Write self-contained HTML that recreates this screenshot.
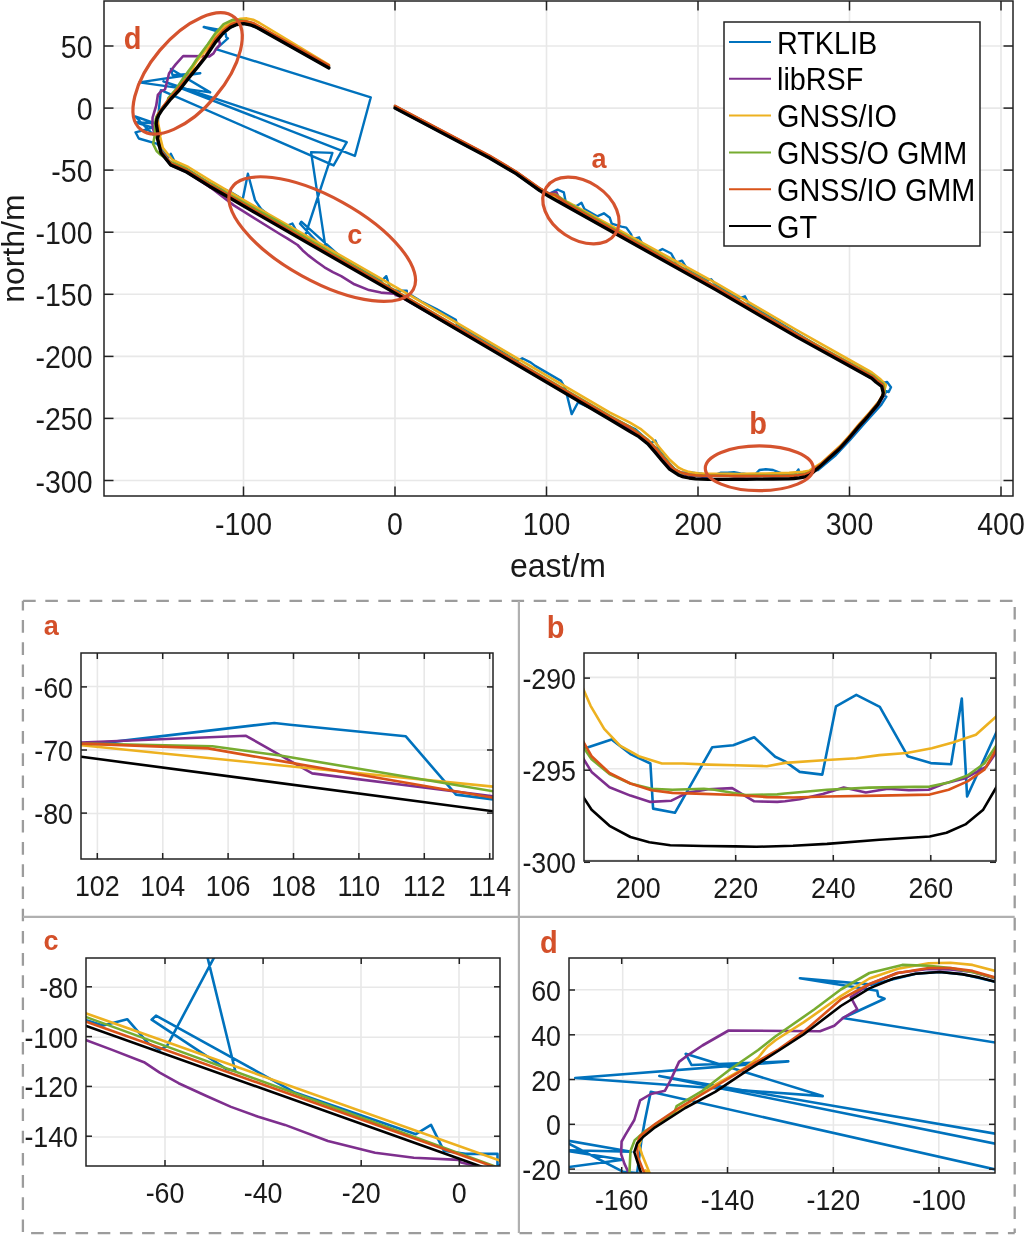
<!DOCTYPE html>
<html><head><meta charset="utf-8"><style>
html,body{margin:0;padding:0;background:#fff;}
svg{display:block;font-family:"Liberation Sans", sans-serif;filter:blur(0.55px);}
</style></head><body>
<svg width="1025" height="1236" viewBox="0 0 1025 1236">
<defs>
<clipPath id="cm"><rect x="104" y="1" width="909" height="495"/></clipPath>
<clipPath id="ca"><rect x="81" y="653" width="412" height="206"/></clipPath>
<clipPath id="cb"><rect x="584" y="653" width="412" height="208"/></clipPath>
<clipPath id="cc"><rect x="86" y="958" width="414" height="208"/></clipPath>
<clipPath id="cd"><rect x="569" y="958" width="426" height="215"/></clipPath>
</defs>
<line x1="243.5" y1="1" x2="243.5" y2="496" stroke="#e8e8e8" stroke-width="1.6"/>
<line x1="395" y1="1" x2="395" y2="496" stroke="#e8e8e8" stroke-width="1.6"/>
<line x1="546.5" y1="1" x2="546.5" y2="496" stroke="#e8e8e8" stroke-width="1.6"/>
<line x1="698" y1="1" x2="698" y2="496" stroke="#e8e8e8" stroke-width="1.6"/>
<line x1="849.5" y1="1" x2="849.5" y2="496" stroke="#e8e8e8" stroke-width="1.6"/>
<line x1="1001" y1="1" x2="1001" y2="496" stroke="#e8e8e8" stroke-width="1.6"/>
<line x1="104" y1="46" x2="1013" y2="46" stroke="#e8e8e8" stroke-width="1.6"/>
<line x1="104" y1="108.1" x2="1013" y2="108.1" stroke="#e8e8e8" stroke-width="1.6"/>
<line x1="104" y1="170.1" x2="1013" y2="170.1" stroke="#e8e8e8" stroke-width="1.6"/>
<line x1="104" y1="232.2" x2="1013" y2="232.2" stroke="#e8e8e8" stroke-width="1.6"/>
<line x1="104" y1="294.3" x2="1013" y2="294.3" stroke="#e8e8e8" stroke-width="1.6"/>
<line x1="104" y1="356.4" x2="1013" y2="356.4" stroke="#e8e8e8" stroke-width="1.6"/>
<line x1="104" y1="418.4" x2="1013" y2="418.4" stroke="#e8e8e8" stroke-width="1.6"/>
<line x1="104" y1="480.5" x2="1013" y2="480.5" stroke="#e8e8e8" stroke-width="1.6"/>
<line x1="97.4" y1="653" x2="97.4" y2="859" stroke="#e8e8e8" stroke-width="1.6"/>
<line x1="162.8" y1="653" x2="162.8" y2="859" stroke="#e8e8e8" stroke-width="1.6"/>
<line x1="228.1" y1="653" x2="228.1" y2="859" stroke="#e8e8e8" stroke-width="1.6"/>
<line x1="293.5" y1="653" x2="293.5" y2="859" stroke="#e8e8e8" stroke-width="1.6"/>
<line x1="358.9" y1="653" x2="358.9" y2="859" stroke="#e8e8e8" stroke-width="1.6"/>
<line x1="424.2" y1="653" x2="424.2" y2="859" stroke="#e8e8e8" stroke-width="1.6"/>
<line x1="489.6" y1="653" x2="489.6" y2="859" stroke="#e8e8e8" stroke-width="1.6"/>
<line x1="81" y1="686.5" x2="493" y2="686.5" stroke="#e8e8e8" stroke-width="1.6"/>
<line x1="81" y1="750" x2="493" y2="750" stroke="#e8e8e8" stroke-width="1.6"/>
<line x1="81" y1="813.5" x2="493" y2="813.5" stroke="#e8e8e8" stroke-width="1.6"/>
<line x1="638" y1="653" x2="638" y2="861" stroke="#e8e8e8" stroke-width="1.6"/>
<line x1="735.3" y1="653" x2="735.3" y2="861" stroke="#e8e8e8" stroke-width="1.6"/>
<line x1="832.7" y1="653" x2="832.7" y2="861" stroke="#e8e8e8" stroke-width="1.6"/>
<line x1="930" y1="653" x2="930" y2="861" stroke="#e8e8e8" stroke-width="1.6"/>
<line x1="584" y1="677.4" x2="996" y2="677.4" stroke="#e8e8e8" stroke-width="1.6"/>
<line x1="584" y1="768.7" x2="996" y2="768.7" stroke="#e8e8e8" stroke-width="1.6"/>
<line x1="584" y1="860" x2="996" y2="860" stroke="#e8e8e8" stroke-width="1.6"/>
<line x1="165" y1="958" x2="165" y2="1166" stroke="#e8e8e8" stroke-width="1.6"/>
<line x1="263" y1="958" x2="263" y2="1166" stroke="#e8e8e8" stroke-width="1.6"/>
<line x1="361" y1="958" x2="361" y2="1166" stroke="#e8e8e8" stroke-width="1.6"/>
<line x1="459" y1="958" x2="459" y2="1166" stroke="#e8e8e8" stroke-width="1.6"/>
<line x1="86" y1="987.3" x2="500" y2="987.3" stroke="#e8e8e8" stroke-width="1.6"/>
<line x1="86" y1="1037.2" x2="500" y2="1037.2" stroke="#e8e8e8" stroke-width="1.6"/>
<line x1="86" y1="1087.1" x2="500" y2="1087.1" stroke="#e8e8e8" stroke-width="1.6"/>
<line x1="86" y1="1137" x2="500" y2="1137" stroke="#e8e8e8" stroke-width="1.6"/>
<line x1="622.7" y1="958" x2="622.7" y2="1173" stroke="#e8e8e8" stroke-width="1.6"/>
<line x1="728.1" y1="958" x2="728.1" y2="1173" stroke="#e8e8e8" stroke-width="1.6"/>
<line x1="833.4" y1="958" x2="833.4" y2="1173" stroke="#e8e8e8" stroke-width="1.6"/>
<line x1="938.8" y1="958" x2="938.8" y2="1173" stroke="#e8e8e8" stroke-width="1.6"/>
<line x1="569" y1="989.8" x2="995" y2="989.8" stroke="#e8e8e8" stroke-width="1.6"/>
<line x1="569" y1="1034.8" x2="995" y2="1034.8" stroke="#e8e8e8" stroke-width="1.6"/>
<line x1="569" y1="1079.9" x2="995" y2="1079.9" stroke="#e8e8e8" stroke-width="1.6"/>
<line x1="569" y1="1125" x2="995" y2="1125" stroke="#e8e8e8" stroke-width="1.6"/>
<line x1="569" y1="1170" x2="995" y2="1170" stroke="#e8e8e8" stroke-width="1.6"/>
<polyline points="395,108.1 489.5,158 516,173.7 539.4,190.4 548.8,193.7 550.2,193.4 557.7,189.7 558.5,190 563.8,192.3 566.1,203.7 567.9,204.7 576.6,206.1 581.5,202.8 584.4,209 597.1,216.4 603.9,213.3 609.8,217.8 611.7,223.7 621.5,226.6 626.3,227.6 631.2,234.4 632.2,239.3 639,237.3 642.9,245.1 655.6,252.9 662.4,249 671.2,253.5 674.1,258.8 676.1,262.7 682,260.7 686.8,268.5 708.3,280.2 711.2,279.3 716.1,285.1 739,298.3 744.9,296.3 748.8,304.1 869,377 884.8,382.6 887.1,381.9 891,387.3 888.7,392 886.4,391.2 884,395.9 886.4,396.7 880.9,405.3 864,424 850,440 836,455 818,470 809.3,471.7 800.2,476.1 798.5,469.5 795.2,473.9 788.9,473.8 781.7,473.3 773.1,470 765.8,469.2 759.4,470 755.2,474.6 748.2,474.4 743.6,473.7 740.6,473.4 734,472.1 727.5,472.6 721,472.7 709.4,477.2 702.6,476.9 701.8,473.8 695.6,473.2 689.7,472.2 681.1,472.8 676.8,471.2 669.2,463.1 660,451.5 655.3,440.6 650.6,443 635,429 612,418 578.1,402.3 571.7,414.1 565.3,388.4 561,380.9 535.2,365.9 530.9,362.6 522.3,358.3 517,361.1 456.9,324 455.8,319.7 436.5,309 421.5,301.5 410,294.5 406.8,296.9 406.8,290.7 396.9,290.7 390.2,289.1 386.3,276.2 381.6,280.9 344.3,260.1 301.3,221.7 300,223.8 323.1,248.4 325.8,249.4 311.1,152.1 332.4,152.9 304.7,237 302.5,238.7 298.9,235.6 292.4,223.5 285,226.7 279.8,224.1 261.1,208.9 255,200.1 247.9,173.7 242.7,199.2 230.3,191.9 209.3,183.2 174.3,160.7 170.8,153.8 168.1,158.1 157.3,143.9 138.8,138.5 135.5,132.3 152.9,127.7 135.2,122.3 155.3,123.3 135.2,116.5 152.9,134.4 157,135.1 158.4,115.4 159.3,105.7 160.9,90.1 333.6,165.4 346.8,142.2 163.4,81.3 354.9,155.9 370.8,97.3 215.9,49.1 227.9,38.4 226.1,36.9 225.8,34 203.7,27 224.3,30.6 236.8,24.5 243.7,23.5 250,24.8 259.6,29 328.9,68" fill="none" stroke="#0072BD" stroke-width="2.4" stroke-linejoin="round" stroke-linecap="round" clip-path="url(#cm)"/>
<polyline points="210.2,92.4 139.3,82.4 200.3,73.2 172.6,75.2 170.9,69 210.2,92.4" fill="none" stroke="#0072BD" stroke-width="2.4" stroke-linejoin="round" stroke-linecap="round" clip-path="url(#cm)"/>
<polyline points="395,106.2 489.5,156.1 516,171.9 539.4,188.5 548.8,193.5 556.4,192.2 559.5,199.6 567.9,204.1 716,287.5 797.5,334.9 873.2,377.1 877.6,381.1 883.2,385.3 884.7,391.6 884.2,394.7 879.3,403.4 869.5,415.1 859.8,425.9 850,437.6 840.3,448.3 830.5,457.1 820.8,465.9 809.3,473.1 806.2,474 799.6,474.8 793.1,475.2 788.2,475.6 782.1,475.6 775.5,475.5 768.7,475.8 761.8,475.5 755.3,475.9 748.2,476.2 743.6,476.4 741.2,476.4 734,476.4 727.2,475.5 719.7,475.6 713.2,475.8 708.3,476.3 701.8,476.4 695.6,476 689.1,475.4 683.5,474.4 681.1,473.5 673.2,469.8 664.4,460.1 655.6,449.6 646.8,440.8 629.2,428.1 609.2,417.2 400.8,296.9 395.5,295 394.9,293.7 380.9,292.6 369,290.1 354.4,284.3 341.2,276.2 332.9,272.2 324.5,267.3 316.7,261.7 308.3,255.4 302.5,250.2 297.6,245 287.6,238.7 279.8,234 233.9,205.4 211,187.8 186.5,172 170.7,165 161,152.7 157.5,138.6 154.7,135.2 153.4,130 152.4,124.6 152.6,117.6 153.7,113.8 156.2,105.7 157.9,94.8 161,91.3 165,89.4 166.5,83.8 169,73.5 171.7,69.5 175.7,64.4 183.2,56 209.4,56.4 213.5,53.4 216,49.1 220.1,44.3 218.2,37.6 223.7,30.2 231.5,24.1 240.3,21.9 246.6,22.2 253.1,23.6 259.6,27.2 328.9,66.7" fill="none" stroke="#7E2F8E" stroke-width="2.6" stroke-linejoin="round" stroke-linecap="round" clip-path="url(#cm)"/>
<polyline points="395,106.8 489.5,156.7 516,172.5 539.4,189.1 548.8,194 567.9,202.2 716,283.1 797.5,330.5 871.8,372.5 879.8,378.7 885.9,384.9 884.7,389.1 884.2,392.2 879.3,400.9 869.5,412.6 859.8,423.4 850,435.1 840.3,445.8 830.5,454.6 820.8,463.4 809.3,470.7 802.9,471.9 795.7,472.4 789.2,472.8 781.4,473.1 772.9,473.3 765.8,473.5 756.6,473.6 743.6,473.8 737.9,474 728.2,473.9 719.7,473.9 711.9,473.8 705.4,473.8 698.2,473.3 692.3,472.6 687.4,471.5 683.2,469.9 681.1,468.9 678.3,467.5 669.5,459.5 660.7,449 651.9,438.4 640.4,428.8 630,422.6 610,412.7 407.9,294.2 279.8,220.6 232.1,193.4 211.1,181.2 188.3,167 172.5,160 162.8,147.7 159.3,133.6 160.6,135.3 158.5,125.2 157.5,119.8 158.4,115.1 162.4,108.5 169.3,99.3 179.3,86.3 187.9,76.8 191.8,70.9 193.6,66.5 194.5,64.7 196.7,61.3 204.7,51.5 215.4,37 223.6,27.2 231.7,21.8 240.5,18.7 246.8,18.4 253.1,19.7 259.6,23 328.9,64.9" fill="none" stroke="#EDB120" stroke-width="2.6" stroke-linejoin="round" stroke-linecap="round" clip-path="url(#cm)"/>
<polyline points="395,106.2 489.5,156.1 516,171.9 539.4,188.5 548.8,193.7 554.9,194.2 558,196.1 567.9,203.1 716,286.8 797.5,334.3 873.2,375.8 877.6,379.8 883.2,384 884.7,390.3 884.2,393.4 879.3,402.1 869.5,413.8 859.8,424.6 850,436.3 840.3,447 830.5,455.8 820.8,464.6 809.3,472.6 805.5,473.8 800.3,474.6 794.4,475.1 788.6,475.4 769.7,475.5 756.6,475.6 743.6,475.9 741.2,475.9 731.4,476 721.7,475.6 718.4,475.5 708.6,475.6 702.1,475.5 695.6,475.2 689.1,474.5 683.5,473.5 681.1,472.8 673.9,468.6 665.1,458.9 656.3,448.3 647.6,439.5 630,426.9 610,415.9 407.9,298 279.8,222.5 230.3,195.2 209.3,183.1 186.5,169 170.7,162 165.4,158 160.1,154.4 156.6,151 153.1,143.9 154.8,135.3 155.1,122.8 156.3,116.8 159.1,112.1 167.7,101.4 168.3,98 175.7,89.5 183.7,77.6 191.7,66.9 196.5,59.5 207.8,44.3 215.4,33.3 223.6,24.1 233,19.7 240.5,20.2 246.8,21.4 253.1,23.6 259.6,26.9 328.9,66.1" fill="none" stroke="#77AC30" stroke-width="2.6" stroke-linejoin="round" stroke-linecap="round" clip-path="url(#cm)"/>
<polyline points="395,105.8 489.5,155.7 516,171.5 539.4,188.1 548.8,193.7 554.7,194.7 558,197.1 567.9,204.4 716,287.5 797.5,334.9 872.3,376.3 876.7,380.3 882.3,384.5 883.8,390.8 883.3,393.9 878.4,402.6 868.6,414.3 858.9,425.1 849.1,436.8 839.4,447.5 829.6,456.3 819.9,465.1 809.3,472.8 805.5,474.3 800.3,475 794.4,475.6 788.6,475.9 772.9,476 756.6,476.1 746.1,476.1 737.9,476.1 728.2,476 718.4,475.9 708.6,475.8 702.1,475.6 695.6,475.2 689.1,474.5 683.5,473.3 681.1,472.4 673.9,469.2 665.1,459.5 656.3,449 647.6,440.1 630,427.5 610,416.6 407.9,298.4 279.8,224.8 230.3,196.5 209.3,184.3 186.5,170.1 170.7,163.1 161,150.8 157.5,136.7 159.1,135.3 157.3,126.4 156.9,119.2 157.9,114.5 162.2,107.9 168.9,99 179.4,87.1 188.6,76.4 197.2,66.9 205.3,55.8 215.4,38.8 223.6,30.2 231.7,24.1 240.5,21.4 246.8,21.4 253.1,23 259.6,26.6 328.9,65.5" fill="none" stroke="#D95319" stroke-width="2.6" stroke-linejoin="round" stroke-linecap="round" clip-path="url(#cm)"/>
<polyline points="395,108.1 489.5,158 516,173.7 539.4,190.4 548.8,196.3 567.9,207 716,289.9 797.5,337.4 871.7,378.3 876.1,382.3 881.7,386.5 883.2,392.8 882.7,395.9 877.8,404.6 868,416.3 858.3,427.1 848.5,438.8 838.8,449.5 829,458.3 819.3,467.1 809.3,475.4 805.2,476.9 799.6,477.9 793.8,478.5 788.6,478.8 772.9,479 756.6,479.2 746.1,479.4 734.7,479.4 728.2,479.4 718.4,479.4 708,479.3 701.4,479.1 695.6,478.8 689.1,478 683.5,476.9 681.1,476.1 678.3,474.9 669.5,469.2 662.5,461.2 655.4,452.6 647.6,443.7 638.8,436.7 630,431.5 610,419.5 401.5,296.9 279.8,226.9 230.3,198.3 209.3,186.2 186.5,172 170.7,165 161,152.7 157.5,138.6 158.1,135.2 156.2,123.5 157,118.7 158.7,115.2 162.2,109.7 170.8,99 179.4,90.1 188.6,78.2 197.8,66.9 204.7,58.3 215.4,42.4 223.6,32.7 230.5,27.2 236.8,24.5 243.7,23.6 250,24.8 255,26.6 259.6,29 328.9,68" fill="none" stroke="#000000" stroke-width="3.3" stroke-linejoin="round" stroke-linecap="round" clip-path="url(#cm)"/>
<polyline points="-3238.1,308.3 -1197.6,562 -625.4,642.1 -121.8,726.7 81.3,743.6 112.8,741.9 274.3,723 290,724.7 405.6,736.2 456,794.6 493.6,799.5 681.6,806.6 787.3,789.8 849.9,821.3 1124.1,858.9 1270.8,843.2 1398.2,866.1 1439.2,896 1650.7,910.8 1754.3,915.9 1860.1,950.4 1881.7,975.3 2028.4,965.2 2112.6,1004.8 2386.7,1044.5 2533.5,1024.6 2723.4,1047.5 2786,1074.5 2829.2,1094.3 2956.6,1084.1 3060.2,1123.8 3524.2,1183.2 3586.8,1178.7 3692.6,1208.1 4186.9,1275.2 4314.2,1265.1 4398.4,1304.7 6992.8,1675.3 7333.8,1703.7 7383.5,1700.2 7467.6,1727.6 7418,1751.5 7368.4,1747.4 7316.6,1771.3 7368.4,1775.4 7249.6,1819.1 6884.9,1914.2 6582.7,1995.5 6280.5,2071.7 5892,2148 5704.3,2156.7 5507.2,2178.8 5471.6,2145.2 5399.9,2167.7 5263.8,2167.3 5108.9,2165 4921.8,2148.1 4764.2,2144 4628.1,2147.9 4536.3,2171.3 4384.7,2170.3 4286.2,2166.7 4220.5,2165.2 4079.7,2158.5 3938.9,2161.2 3798.7,2161.9 3548,2184.3 3401.8,2182.9 3383.7,2167.5 3249.6,2164.2 3123.5,2159.2 2936.5,2162.4 2844.1,2154 2680.6,2113 2481.7,2053.9 2380.3,1998.5 2278.8,2010.7 1942.1,1939.6 1445.7,1883.7 714,1803.9 575.8,1863.8 437.7,1733.2 344.9,1695.1 -212,1618.8 -304.8,1602.1 -490.4,1580.2 -604.8,1594.4 -1902,1405.9 -1925.8,1384 -2342.4,1329.6 -2666.1,1291.5 -2914.3,1255.9 -2983.4,1268.2 -2983.4,1236.6 -3198.1,1236.6 -3341.4,1228.4 -3426.8,1163.1 -3527.4,1186.6 -4333.4,1081.2 -5260.1,886.1 -5289.4,896.5 -4790.8,1021.7 -4731.4,1026.5 -5049.7,532.3 -4588.6,536.1 -5188.1,963.9 -5235.4,972.2 -5312.1,956.3 -5452.1,895.2 -5612.8,911.2 -5724.8,898 -6128.8,820.7 -6259.6,775.9 -6413.3,642.1 -6524.5,771.5 -6792.6,734.2 -7247.1,690.1 -8002.5,575.8 -8077.7,540.5 -8136.6,562.6 -8368.7,490.7 -8767.7,462.9 -8839.6,431.3 -8463.6,408 -8846.2,380.9 -8411.2,385.9 -8846.2,351.2 -8463.6,442.1 -8375.3,445.9 -8345.8,345.5 -8326.2,296.3 -8290.2,216.8 -4562.5,599.8 -4278,481.8 -8237.9,172 -4104.7,551.2 -3761.3,253.4 -7103.2,8.6 -6844.9,-45.7 -6884.2,-53.3 -6890.7,-68.4 -7368.1,-103.7 -6923.4,-85.4 -6652,-116.4 -6504.8,-121.4 -6367.5,-115.1 -6161.5,-93.6 -4663.8,104.5" fill="none" stroke="#0072BD" stroke-width="2.6" stroke-linejoin="round" stroke-linecap="round" clip-path="url(#ca)"/>
<polyline points="-7227.5,228.8 -8757.9,177.7 -7440.1,131 -8038.5,141.1 -8074.4,109.5 -7227.5,228.8" fill="none" stroke="#0072BD" stroke-width="2.6" stroke-linejoin="round" stroke-linecap="round" clip-path="url(#ca)"/>
<polyline points="-3238.1,298.8 -1197.6,552.5 -625.4,632.6 -121.8,717.2 81.3,742.5 246,735.8 312.2,773.4 493.6,796.3 3691,1220.1 5450.3,1461.1 7083.8,1675.6 7178.7,1695.9 7299.6,1717.2 7332,1749.3 7321.2,1765 7215.4,1809.2 7003.9,1868.7 6794.5,1923.6 6583,1983.1 6373.6,2037.5 6162.1,2082.2 5952.8,2126.9 5704.3,2163.5 5636.6,2168.6 5495.8,2172.5 5355,2174.3 5249.7,2176.4 5116.3,2176.6 4975.5,2176.1 4827.9,2177.4 4679.8,2175.7 4539.6,2177.9 4384.7,2179.7 4286.2,2180.4 4234.6,2180.6 4079.7,2180.4 3932.2,2175.9 3770.6,2176.3 3629.8,2177.5 3524.5,2180.2 3383.7,2180.6 3249.6,2178.5 3109.5,2175.6 2989.4,2170.3 2936.5,2166 2765.6,2147 2576,2097.8 2386.3,2044.2 2196.6,1999.4 1817.3,1935 1385.7,1879.5 -3112.1,1268.2 -3226.8,1258.3 -3240.8,1251.8 -3541.4,1246.4 -3799.4,1233.8 -4114.1,1203.9 -4400.1,1163.1 -4578.1,1142.5 -4760.1,1117.4 -4927.4,1089.3 -5109.4,1057.4 -5235.4,1030.8 -5340.1,1004.2 -5556.8,972.2 -5724.8,948.4 -6715.3,803 -7209.6,713.6 -7738.4,633.3 -8079.4,597.7 -8288.8,535.2 -8364.3,463.5 -8425.8,446.2 -8453,420 -8474.1,392.3 -8471,356.8 -8446.8,337.3 -8392.4,296.2 -8356.6,240.9 -8289.8,222.9 -8202.6,213.6 -8169.2,185.1 -8116,132.4 -8057.9,112.3 -7971.3,86.1 -7809.3,43.8 -7244.1,45.8 -7155.7,30.3 -7101.9,8.6 -7013.4,-15.9 -7054.3,-50.1 -6934.9,-87.3 -6767.9,-118.3 -6576.2,-129.6 -6440.2,-128.2 -6301.1,-121.1 -6160.7,-102.8 -4663.8,98.2" fill="none" stroke="#7E2F8E" stroke-width="2.6" stroke-linejoin="round" stroke-linecap="round" clip-path="url(#ca)"/>
<polyline points="-3238.1,302 -1197.6,555.7 -625.4,635.8 -121.8,720.3 81.3,745.3 493.6,786.7 3691,1198 5450.3,1439.1 7052.6,1652.3 7225.9,1683.9 7356.7,1715.4 7332,1736.6 7321.2,1752.4 7215.4,1796.6 7003.9,1856.1 6794.5,1911 6583,1970.5 6373.6,2024.8 6162.1,2069.6 5952.8,2114.3 5704.3,2151.3 5566.2,2157.6 5411.3,2160.3 5270.5,2162.2 5102.2,2163.9 4919.1,2164.6 4764.2,2165.7 4567.8,2166.3 4286.2,2167.2 4164.2,2168.4 3952.9,2168 3770.6,2167.8 3601.6,2167.5 3460.8,2167.5 3305.9,2165 3179.9,2161.4 3073.9,2155.6 2982.7,2147.7 2936.5,2142.3 2876.8,2135 2687.1,2094.7 2497.5,2041 2307.8,1987.4 2059.3,1938.8 1833.7,1907.3 1402,1856.8 -2960.2,1254.2 -5724.8,880.5 -6753.4,741.8 -7207.9,680 -7699.2,608 -8040.2,572.4 -8249.6,509.9 -8325.1,438.2 -8296.6,446.7 -8343,395.4 -8363.4,368.1 -8344.8,344.1 -8258.2,310.3 -8109.8,263.8 -7893.4,197.5 -7707.9,149.6 -7623.8,119.1 -7584.8,97.1 -7565.7,88.1 -7517.4,70.6 -7346.1,21 -7115.5,-53.2 -6938.6,-102.8 -6762.4,-130.4 -6572.5,-145.9 -6436.5,-147.3 -6301.1,-141.1 -6160.7,-124.2 -4663.8,88.7" fill="none" stroke="#EDB120" stroke-width="2.6" stroke-linejoin="round" stroke-linecap="round" clip-path="url(#ca)"/>
<polyline points="-3238.1,298.8 -1197.6,552.5 -625.4,632.6 -121.8,717.2 81.3,743.6 212.4,746.3 280,755.5 493.6,791.4 3691,1216.9 5450.3,1458 7083.8,1669.3 7178.7,1689.6 7299.6,1710.9 7332,1743 7321.2,1758.7 7215.4,1802.9 7003.9,1862.4 6794.5,1917.3 6583,1976.8 6373.6,2031.2 6162.1,2075.9 5952.8,2120.6 5704.3,2161.2 5622.5,2167.5 5509.8,2171.6 5383.1,2173.9 5256.4,2175.4 4848.7,2175.7 4567.8,2176.4 4286.2,2177.7 4234.6,2178 4023.4,2178.2 3812.8,2176.4 3742.4,2176.1 3531.2,2176.4 3390.4,2176.1 3249.6,2174.3 3109.5,2171.1 2989.4,2166 2936.5,2162.1 2782,2140.7 2592.3,2091.5 2402.7,2037.9 2213,1993.1 1833.7,1928.7 1402,1873.2 -2960.2,1273.7 -5724.8,889.9 -6792.6,751.3 -7247.1,689.4 -7738.4,618 -8079.4,582.4 -8193.8,562.1 -8308.2,543.8 -8383.8,526.5 -8459.3,490.4 -8422.7,446.7 -8415.9,383.3 -8389.3,352.8 -8330,328.9 -8143.8,274.2 -8130.9,257.3 -7971.3,213.8 -7798.8,153.2 -7626.3,98.8 -7522.4,61.3 -7278.1,-15.9 -7115.5,-71.8 -6938.6,-118.3 -6735.2,-141.1 -6572.5,-138.6 -6436.5,-132.4 -6301.1,-121.1 -6160.7,-104.2 -4663.8,95" fill="none" stroke="#77AC30" stroke-width="2.6" stroke-linejoin="round" stroke-linecap="round" clip-path="url(#ca)"/>
<polyline points="-3238.1,296.9 -1197.6,550.6 -625.4,630.7 -121.8,715.3 81.3,743.6 208.2,748.4 280,760.9 493.6,797.8 3691,1220.1 5450.3,1461.1 7064.1,1671.8 7159.1,1692.1 7280,1713.5 7312.4,1745.5 7301.6,1761.2 7195.8,1805.5 6984.3,1864.9 6774.9,1919.8 6563.4,1979.3 6354,2033.7 6142.5,2078.4 5933.1,2123.1 5704.3,2162.4 5622.5,2169.6 5509.8,2173.6 5383.1,2176.4 5256.4,2178.1 4919.1,2178.5 4567.8,2178.8 4339.8,2179.1 4164.2,2179 3952.9,2178.2 3742.4,2177.9 3531.2,2177.5 3390.4,2176.6 3249.6,2174.3 3109.5,2170.7 2989.4,2165 2936.5,2160.3 2782,2143.9 2592.3,2094.7 2402.7,2041 2213,1996.2 1833.7,1931.9 1402,1876.3 -2960.2,1275.6 -5724.8,901.5 -6792.6,757.6 -7247.1,695.7 -7738.4,623.8 -8079.4,588.2 -8288.8,525.7 -8364.3,454 -8330,446.7 -8369.6,401.3 -8376.4,365 -8356.6,341 -8263.8,307.5 -8117.3,262.3 -7892.2,201.7 -7693,147.3 -7506.9,98.8 -7332.5,42.7 -7115.5,-43.9 -6938.6,-87.3 -6762.4,-118.3 -6572.5,-132.4 -6436.5,-132.4 -6301.1,-124.2 -6160.7,-105.9 -4663.8,91.9" fill="none" stroke="#D95319" stroke-width="2.6" stroke-linejoin="round" stroke-linecap="round" clip-path="url(#ca)"/>
<polyline points="-3238.1,308.3 -1197.6,562 -625.4,642.1 -121.8,726.7 81.3,756.8 493.6,811.3 3691,1232.7 5450.3,1473.8 7051.1,1681.9 7146,1702.2 7266.9,1723.6 7299.3,1755.6 7288.5,1771.3 7182.7,1815.6 6971.2,1875 6761.8,1929.9 6550.3,1989.4 6340.9,2043.8 6129.4,2088.5 5920.1,2133.2 5704.3,2175.5 5615.1,2183.3 5495.8,2188.3 5369,2191.2 5256.4,2192.5 4919.1,2193.6 4567.8,2195 4339.8,2195.6 4093.8,2196 3952.9,2195.9 3742.4,2195.7 3517.1,2195.5 3376.3,2194.4 3249.6,2192.6 3109.5,2188.8 2989.4,2183.3 2936.5,2179.2 2876.8,2172.9 2687.1,2143.9 2536.7,2103.5 2383,2059.3 2213,2014.5 2023.3,1978.6 1833.7,1952.1 1402,1891.5 -3097.5,1268.1 -5724.6,912.2 -6792.6,767 -7247.1,705.2 -7738.4,633.3 -8079.4,597.7 -8288.8,535.2 -8364.3,463.5 -8350.4,446.2 -8392.4,387 -8374.5,362.2 -8338.6,344.4 -8263.8,316.8 -8077.7,262.3 -7892.2,216.9 -7693,156.3 -7493.9,98.8 -7346.1,55.1 -7115.5,-25.2 -6938.6,-74.9 -6789.6,-102.8 -6653.5,-116.3 -6504.5,-121.1 -6368.5,-115.2 -6260.3,-105.9 -6160.7,-93.5 -4663.8,104.5" fill="none" stroke="#000000" stroke-width="2.6" stroke-linejoin="round" stroke-linecap="round" clip-path="url(#ca)"/>
<polyline points="-337.2,-4663.7 -32.9,-3923.2 52.5,-3689.3 127.6,-3442.5 157.9,-3393 162.6,-3397.9 186.7,-3453.1 189,-3448.2 206.2,-3414.6 213.8,-3244.1 219.4,-3229.8 247.4,-3209.1 263.2,-3258.1 272.5,-3166.1 313.4,-3056.3 335.3,-3102.3 354.3,-3035.5 360.4,-2948 391.9,-2904.9 407.4,-2890.1 423.2,-2789.2 426.4,-2716.5 448.3,-2746.2 460.8,-2630.4 501.7,-2514.7 523.6,-2572.6 551.9,-2505.8 561.3,-2427.2 567.7,-2369.3 586.7,-2399 602.1,-2283.2 671.4,-2109.6 680.7,-2123 696.5,-2036.9 770.2,-1841.1 789.2,-1870.7 801.7,-1755 1188.7,-673.3 1239.5,-590.2 1246.9,-600.6 1259.5,-520.5 1252.1,-450.7 1244.7,-462.6 1237,-392.9 1244.7,-381 1227,-253.4 1172.6,24.1 1127.5,261.5 1082.4,484.1 1024.5,706.6 996.5,732.1 967.1,796.5 961.8,698.5 951.1,764.2 930.8,763.1 907.7,756.2 879.8,706.9 856.3,694.9 836,706.3 822.3,774.6 799.7,771.9 785,761.4 775.2,756.8 754.2,737.3 733.2,745.3 712.3,747.2 674.9,812.8 653.1,808.6 650.4,763.5 630.4,754.1 611.6,739.4 583.7,748.8 569.9,724.1 545.5,604.4 515.9,432.1 500.7,270.4 485.6,306 435.4,98.3 361.4,-64.9 252.2,-297.9 231.6,-122.8 211,-504.1 197.2,-615.4 114.1,-838 100.3,-887 72.6,-950.8 55.5,-909.2 -137.9,-1459.7 -141.5,-1523.5 -203.6,-1682.3 -251.9,-1793.6 -288.9,-1897.4 -299.2,-1861.5 -299.2,-1954 -331.2,-1954 -352.6,-1977.6 -365.3,-2168.5 -380.4,-2099.7 -500.6,-2407.4 -638.8,-2977 -643.1,-2946.7 -568.8,-2581.3 -559.9,-2567.2 -607.4,-4009.8 -538.6,-3998.7 -628,-2749.9 -635.1,-2725.5 -646.5,-2772.1 -667.4,-2950.4 -691.4,-2903.8 -708.1,-2942.3 -768.3,-3168 -787.8,-3298.8 -810.8,-3689.3 -827.3,-3311.7 -867.3,-3420.4 -935.1,-3549.3 -1047.8,-3882.7 -1059,-3985.8 -1067.8,-3921.4 -1102.4,-4131.4 -1161.9,-4212.4 -1172.6,-4304.5 -1116.5,-4372.7 -1173.6,-4451.9 -1108.7,-4437.1 -1173.6,-4538.4 -1116.5,-4273.2 -1103.4,-4262.1 -1099,-4555 -1096.1,-4698.7 -1090.7,-4930.8 -534.7,-3812.7 -492.3,-4157.2 -1082.9,-5061.6 -466.4,-3954.5 -415.2,-4824 -913.7,-5538.7 -875.1,-5697.1 -881,-5719.2 -882,-5763.4 -953.2,-5866.5 -886.8,-5813.1 -846.4,-5903.4 -824.4,-5918.1 -803.9,-5899.7 -773.2,-5837.1 -549.8,-5258.7" fill="none" stroke="#0072BD" stroke-width="2.6" stroke-linejoin="round" stroke-linecap="round" clip-path="url(#cb)"/>
<polyline points="-932.2,-4895.8 -1160.4,-5045 -963.9,-5181.3 -1053.1,-5151.8 -1058.5,-5243.9 -932.2,-4895.8" fill="none" stroke="#0072BD" stroke-width="2.6" stroke-linejoin="round" stroke-linecap="round" clip-path="url(#cb)"/>
<polyline points="-337.2,-4691.3 -32.9,-3950.8 52.5,-3716.9 127.6,-3470.1 157.9,-3396.2 182.4,-3415.8 192.3,-3306 219.4,-3239.1 696.2,-2002 958.6,-1298.4 1202.2,-672.4 1216.4,-613.1 1234.4,-550.8 1239.3,-457.3 1237.7,-411.3 1221.9,-282.2 1190.3,-108.6 1159.1,51.7 1127.6,225.3 1096.3,384 1064.8,514.6 1033.6,645.2 996.5,752 986.4,766.7 965.4,778.2 944.4,783.5 928.7,789.7 908.8,790.2 887.8,788.7 865.8,792.5 843.7,787.6 822.8,793.9 799.7,799.2 785,801.3 777.3,801.9 754.2,801.3 732.2,788.1 708.1,789.3 687.1,792.9 671.4,800.7 650.4,801.9 630.4,795.6 609.5,787.2 591.6,771.9 583.7,759.3 558.2,703.9 529.9,560.2 501.6,403.6 473.4,272.9 416.8,85 352.4,-77.1 -318.4,-1861.5 -335.5,-1890.3 -337.6,-1909.6 -382.4,-1925.1 -420.9,-1962.1 -467.8,-2049.4 -510.5,-2168.5 -537.1,-2228.4 -564.2,-2301.6 -589.2,-2383.8 -616.3,-2477 -635.1,-2554.6 -650.7,-2632.3 -683,-2725.5 -708.1,-2795.1 -855.8,-3219.5 -929.5,-3480.7 -1008.4,-3715.1 -1059.3,-3819 -1090.5,-4001.5 -1101.7,-4210.7 -1110.9,-4261.2 -1115,-4337.8 -1118.1,-4418.4 -1117.6,-4522.1 -1114.1,-4578.9 -1105.9,-4699.1 -1100.6,-4860.4 -1090.6,-4913.1 -1077.6,-4940.2 -1072.6,-5023.4 -1064.7,-5177.3 -1056,-5235.7 -1043.1,-5312.3 -1019,-5435.7 -934.7,-5430 -921.5,-5475.2 -913.5,-5538.6 -900.3,-5610.2 -906.4,-5709.8 -888.6,-5818.4 -863.7,-5909 -835.1,-5941.9 -814.8,-5937.8 -794,-5917.2 -773.1,-5863.7 -549.8,-5277.1" fill="none" stroke="#7E2F8E" stroke-width="2.6" stroke-linejoin="round" stroke-linecap="round" clip-path="url(#cb)"/>
<polyline points="-337.2,-4682.1 -32.9,-3941.6 52.5,-3707.7 127.6,-3460.9 157.9,-3388 219.4,-3267.2 696.2,-2066.5 958.6,-1362.8 1197.6,-740.2 1223.4,-648.1 1242.9,-556 1239.3,-494.1 1237.7,-448.1 1221.9,-319 1190.3,-145.4 1159.1,14.8 1127.6,188.4 1096.3,347.2 1064.8,477.8 1033.6,608.4 996.5,716.3 975.9,734.8 952.8,742.5 931.8,748.2 906.7,753 879.4,755.1 856.3,758.3 827,760 785,762.9 766.8,766.2 735.3,765.2 708.1,764.6 682.9,763.5 661.9,763.5 638.8,756.2 620,745.7 604.2,728.9 590.6,705.8 583.7,690.1 574.8,668.9 546.5,551 518.2,394.4 489.9,237.9 452.9,96 419.2,3.9 354.8,-143.4 -295.7,-1902.5 -708.1,-2993.3 -861.5,-3398.2 -929.3,-3578.8 -1002.5,-3788.8 -1053.4,-3892.6 -1084.6,-4075.2 -1095.9,-4284.4 -1091.6,-4259.6 -1098.6,-4409.4 -1101.6,-4489.2 -1098.8,-4559.2 -1085.9,-4657.9 -1063.8,-4793.7 -1031.5,-4987.2 -1003.8,-5127.1 -991.3,-5216 -985.5,-5280.2 -982.6,-5306.5 -975.4,-5357.5 -949.9,-5502.4 -915.5,-5718.9 -889.1,-5863.7 -862.8,-5944.4 -834.5,-5989.6 -814.2,-5993.8 -794,-5975.7 -773.1,-5926.3 -549.8,-5304.7" fill="none" stroke="#EDB120" stroke-width="2.6" stroke-linejoin="round" stroke-linecap="round" clip-path="url(#cb)"/>
<polyline points="-337.2,-4691.3 -32.9,-3950.8 52.5,-3716.9 127.6,-3470.1 157.9,-3393 177.4,-3385.1 187.5,-3358.2 219.4,-3253.4 696.2,-2011.2 958.6,-1307.6 1202.2,-690.8 1216.4,-631.5 1234.4,-569.2 1239.3,-475.7 1237.7,-429.7 1221.9,-300.6 1190.3,-127 1159.1,33.3 1127.6,206.9 1096.3,365.6 1064.8,496.2 1033.6,626.8 996.5,745.3 984.3,763.5 967.5,775.5 948.6,782.4 929.7,786.6 868.9,787.6 827,789.7 785,793.5 777.3,794.4 745.8,795 714.4,789.7 703.9,788.7 672.4,789.7 651.4,788.7 630.4,783.5 609.5,774 591.6,759.3 583.7,747.8 560.7,685.5 532.4,541.8 504.1,385.2 475.8,254.4 419.2,66.6 354.8,-95.5 -295.7,-1845.4 -708.1,-2966 -867.3,-3370.6 -935.1,-3551.1 -1008.4,-3759.6 -1059.3,-3863.5 -1076.3,-3922.8 -1093.4,-3976.3 -1104.6,-4026.7 -1115.9,-4132.1 -1110.5,-4259.6 -1109.4,-4444.8 -1105.5,-4533.7 -1096.6,-4603.6 -1068.9,-4763.3 -1066.9,-4812.7 -1043.1,-4939.4 -1017.4,-5116.4 -991.7,-5275.2 -976.2,-5384.7 -939.7,-5610.2 -915.5,-5773.2 -889.1,-5909 -858.8,-5975.7 -834.5,-5968.2 -814.2,-5950.1 -794,-5917.2 -773.1,-5867.8 -549.8,-5286.3" fill="none" stroke="#77AC30" stroke-width="2.6" stroke-linejoin="round" stroke-linecap="round" clip-path="url(#cb)"/>
<polyline points="-337.2,-4696.9 -32.9,-3956.4 52.5,-3722.4 127.6,-3475.6 157.9,-3393 176.8,-3379 187.5,-3342.5 219.4,-3234.8 696.2,-2002 958.6,-1298.4 1199.3,-683.5 1213.5,-624.1 1231.5,-561.8 1236.3,-468.3 1234.7,-422.3 1219,-293.2 1187.4,-119.6 1156.2,40.6 1124.6,214.2 1093.4,373 1061.9,503.6 1030.6,634.1 996.5,748.8 984.3,769.8 967.5,781.4 948.6,789.7 929.7,794.6 879.4,795.6 827,796.5 793,797.5 766.8,797.1 735.3,795 703.9,793.9 672.4,792.9 651.4,790.2 630.4,783.5 609.5,773 591.6,756.2 583.7,742.5 560.7,694.7 532.4,551 504.1,394.4 475.8,263.6 419.2,75.8 354.8,-86.3 -295.7,-1839.9 -708.1,-2931.9 -867.3,-3352.2 -935.1,-3532.7 -1008.4,-3742.7 -1059.3,-3846.6 -1090.5,-4029.1 -1101.7,-4238.3 -1096.6,-4259.6 -1102.5,-4392.1 -1103.5,-4498.3 -1100.6,-4568.2 -1086.8,-4666.2 -1064.9,-4797.9 -1031.3,-4974.8 -1001.6,-5133.7 -973.9,-5275.2 -947.9,-5439 -915.5,-5691.7 -889.1,-5818.4 -862.8,-5909 -834.5,-5950.1 -814.2,-5950.1 -794,-5926.3 -773.1,-5872.8 -549.8,-5295.5" fill="none" stroke="#D95319" stroke-width="2.6" stroke-linejoin="round" stroke-linecap="round" clip-path="url(#cb)"/>
<polyline points="-337.2,-4663.7 -32.9,-3923.2 52.5,-3689.3 127.6,-3442.5 157.9,-3354.4 219.4,-3195.4 696.2,-1965.2 958.6,-1261.5 1197.4,-654 1211.5,-594.7 1229.6,-532.3 1234.4,-438.9 1232.8,-392.9 1217,-263.8 1185.5,-90.2 1154.2,70.1 1122.7,243.7 1091.5,402.5 1059.9,533 1028.7,663.6 996.5,787 983.2,809.7 965.4,824.4 946.5,832.7 929.7,836.5 879.4,839.7 827,843.9 793,845.8 756.3,846.8 735.3,846.4 703.9,846 670.3,845.3 649.3,842.2 630.4,837 609.5,825.8 591.6,809.7 583.7,797.7 574.8,779.4 546.5,694.7 524.1,576.8 501.2,447.8 475.8,317.1 447.5,212.1 419.2,134.7 354.8,-42.1 -316.2,-1862 -708,-2900.9 -867.3,-3324.6 -935.1,-3505.1 -1008.4,-3715.1 -1059.3,-3819 -1090.5,-4001.5 -1101.7,-4210.7 -1099.7,-4261.2 -1105.9,-4434.1 -1103.3,-4506.5 -1097.9,-4558.3 -1086.8,-4639 -1059,-4797.9 -1031.3,-4930.4 -1001.6,-5107.3 -971.9,-5275.2 -949.9,-5402.8 -915.5,-5637.4 -889.1,-5782.2 -866.9,-5863.7 -846.6,-5903.2 -824.4,-5917.2 -804.1,-5899.9 -787.9,-5872.8 -773.1,-5836.6 -549.8,-5258.7" fill="none" stroke="#000000" stroke-width="2.6" stroke-linejoin="round" stroke-linecap="round" clip-path="url(#cb)"/>
<polyline points="459.3,787.6 765.4,887.7 851.2,919.3 926.7,952.7 957.2,959.4 961.9,958.7 986.2,951.2 988.5,951.9 1005.9,956.5 1013.4,979.5 1019.1,981.4 1047.3,984.2 1063.1,977.6 1072.5,990 1113.6,1004.9 1135.6,998.7 1154.7,1007.7 1160.9,1019.5 1192.6,1025.3 1208.2,1027.4 1224,1041 1227.3,1050.8 1249.3,1046.8 1261.9,1062.5 1303,1078.1 1325,1070.3 1353.5,1079.3 1362.9,1089.9 1369.4,1097.8 1388.5,1093.7 1404,1109.4 1473.6,1132.9 1483,1131.1 1498.9,1142.7 1573,1169.2 1592.1,1165.2 1604.8,1180.8 1993.9,1327 2045.1,1338.3 2052.5,1336.8 2065.2,1347.7 2057.7,1357.1 2050.3,1355.5 2042.5,1364.9 2050.3,1366.5 2032.5,1383.8 1977.7,1421.3 1932.4,1453.4 1887.1,1483.5 1828.8,1513.6 1800.7,1517 1771.1,1525.7 1765.8,1512.5 1755,1521.3 1734.6,1521.2 1711.3,1520.3 1683.3,1513.6 1659.7,1512 1639.2,1513.5 1625.5,1522.7 1602.7,1522.4 1587.9,1521 1578.1,1520.3 1557,1517.7 1535.8,1518.8 1514.8,1519 1477.2,1527.9 1455.3,1527.3 1452.6,1521.2 1432.5,1520 1413.5,1518 1385.5,1519.3 1371.6,1515.9 1347.1,1499.7 1317.3,1476.5 1302.1,1454.6 1286.8,1459.4 1236.3,1431.3 1161.9,1409.3 1052.1,1377.8 1031.4,1401.4 1010.7,1349.9 996.7,1334.8 913.2,1304.8 899.3,1298.1 871.4,1289.5 854.3,1295.1 659.7,1220.7 656.1,1212.1 593.7,1190.6 545.1,1175.6 507.9,1161.5 497.5,1166.4 497.5,1153.9 465.3,1153.9 443.8,1150.7 431,1124.9 415.9,1134.2 295,1092.6 156,1015.6 151.6,1019.7 226.4,1069.1 235.3,1071 187.6,876 256.7,877.5 166.8,1046.3 159.7,1049.6 148.2,1043.3 127.2,1019.2 103.1,1025.5 86.3,1020.3 25.7,989.8 6.1,972.1 -17,919.3 -33.7,970.4 -73.9,955.7 -142.1,938.2 -255.4,893.2 -266.6,879.2 -275.5,887.9 -310.3,859.6 -370.1,848.6 -380.9,836.2 -324.5,826.9 -381.9,816.2 -316.7,818.2 -381.9,804.5 -324.5,840.4 -311.3,841.9 -306.9,802.3 -303.9,782.9 -298.5,751.5 260.6,902.6 303.3,856.1 -290.7,733.8 329.3,883.5 380.8,765.9 -120.5,669.3 -81.7,647.9 -87.6,644.9 -88.6,638.9 -160.2,625 -93.5,632.2 -52.8,620 -30.7,618 -10.1,620.5 20.8,629 245.4,707.2" fill="none" stroke="#0072BD" stroke-width="2.6" stroke-linejoin="round" stroke-linecap="round" clip-path="url(#cc)"/>
<polyline points="-139.1,756.2 -368.7,736.1 -171,717.6 -260.8,721.6 -266.1,709.2 -139.1,756.2" fill="none" stroke="#0072BD" stroke-width="2.6" stroke-linejoin="round" stroke-linecap="round" clip-path="url(#cc)"/>
<polyline points="459.3,783.9 765.4,884 851.2,915.6 926.7,949 957.2,958.9 981.9,956.3 991.8,971.1 1019.1,980.2 1498.7,1147.4 1762.6,1242.5 2007.6,1327.1 2021.8,1335.2 2040,1343.6 2044.8,1356.2 2043.2,1362.4 2027.3,1379.9 1995.6,1403.4 1964.2,1425 1932.5,1448.5 1901.1,1470 1869.3,1487.6 1837.9,1505.3 1800.7,1519.7 1790.5,1521.7 1769.4,1523.2 1748.3,1523.9 1732.5,1524.8 1712.5,1524.9 1691.3,1524.7 1669.2,1525.2 1647,1524.5 1626,1525.4 1602.7,1526.1 1587.9,1526.4 1580.2,1526.4 1557,1526.4 1534.8,1524.6 1510.6,1524.7 1489.5,1525.2 1473.7,1526.3 1452.6,1526.4 1432.5,1525.6 1411.4,1524.4 1393.4,1522.4 1385.5,1520.7 1359.9,1513.2 1331.4,1493.8 1303,1472.6 1274.5,1454.9 1217.6,1429.5 1152.9,1407.6 478.2,1166.4 461,1162.5 458.9,1159.9 413.8,1157.8 375.1,1152.8 327.9,1141 285,1124.9 258.3,1116.8 231,1106.9 205.9,1095.8 178.6,1083.2 159.7,1072.7 144,1062.2 111.5,1049.6 86.3,1040.2 -62.3,982.8 -136.4,947.5 -215.7,915.8 -266.9,901.8 -298.3,877.1 -309.6,848.8 -318.9,842 -322.9,831.7 -326.1,820.8 -325.6,806.7 -322,799.1 -313.8,782.8 -308.5,761 -298.5,753.9 -285.4,750.2 -280.4,739 -272.4,718.2 -263.7,710.3 -250.7,699.9 -226.4,683.2 -141.6,684 -128.3,677.9 -120.3,669.3 -107,659.7 -113.1,646.2 -95.2,631.5 -70.2,619.3 -41.4,614.8 -21,615.4 -0.1,618.2 20.9,625.4 245.4,704.7" fill="none" stroke="#7E2F8E" stroke-width="2.6" stroke-linejoin="round" stroke-linecap="round" clip-path="url(#cc)"/>
<polyline points="459.3,785.1 765.4,885.2 851.2,916.8 926.7,950.2 957.2,960 1019.1,976.4 1498.7,1138.7 1762.6,1233.8 2002.9,1318 2028.9,1330.4 2048.5,1342.9 2044.8,1351.2 2043.2,1357.5 2027.3,1374.9 1995.6,1398.4 1964.2,1420 1932.5,1443.5 1901.1,1465 1869.3,1482.6 1837.9,1500.3 1800.7,1514.9 1779.9,1517.4 1756.7,1518.4 1735.6,1519.2 1710.3,1519.8 1682.9,1520.1 1659.7,1520.5 1630.2,1520.8 1587.9,1521.2 1569.6,1521.6 1538,1521.5 1510.6,1521.4 1485.3,1521.2 1464.1,1521.2 1440.9,1520.3 1422,1518.8 1406.1,1516.6 1392.4,1513.4 1385.5,1511.3 1376.5,1508.5 1348.1,1492.5 1319.6,1471.4 1291.2,1450.2 1253.9,1431 1220.1,1418.6 1155.3,1398.6 501,1160.9 86.3,1013.4 -68,958.7 -136.2,934.3 -209.9,905.9 -261,891.8 -292.4,867.2 -303.7,838.9 -299.5,842.2 -306.4,822 -309.5,811.2 -306.7,801.7 -293.7,788.4 -271.5,770 -239,743.9 -211.2,725 -198.6,712.9 -192.7,704.3 -189.8,700.7 -182.6,693.8 -156.9,674.2 -122.3,645 -95.8,625.4 -69.3,614.5 -40.9,608.4 -20.5,607.8 -0.1,610.3 20.9,616.9 245.4,700.9" fill="none" stroke="#EDB120" stroke-width="2.6" stroke-linejoin="round" stroke-linecap="round" clip-path="url(#cc)"/>
<polyline points="459.3,783.9 765.4,884 851.2,915.6 926.7,949 957.2,959.4 976.9,960.4 987,964.1 1019.1,978.2 1498.7,1146.2 1762.6,1241.3 2007.6,1324.6 2021.8,1332.7 2040,1341.1 2044.8,1353.7 2043.2,1359.9 2027.3,1377.4 1995.6,1400.9 1964.2,1422.5 1932.5,1446 1901.1,1467.5 1869.3,1485.1 1837.9,1502.8 1800.7,1518.8 1788.4,1521.2 1771.5,1522.9 1752.5,1523.8 1733.5,1524.4 1672.3,1524.5 1630.2,1524.8 1587.9,1525.3 1580.2,1525.4 1548.5,1525.5 1516.9,1524.8 1506.4,1524.7 1474.7,1524.8 1453.6,1524.7 1432.5,1523.9 1411.4,1522.7 1393.4,1520.7 1385.5,1519.1 1362.3,1510.7 1333.9,1491.3 1305.4,1470.1 1277,1452.4 1220.1,1427 1155.3,1405.1 501,1168.6 86.3,1017.1 -73.9,962.4 -142.1,938 -215.7,909.8 -266.9,895.8 -284.1,887.7 -301.2,880.5 -312.5,873.7 -323.9,859.5 -318.4,842.2 -317.4,817.2 -313.4,805.2 -304.5,795.7 -276.6,774.1 -274.6,767.5 -250.7,750.3 -224.8,726.4 -198.9,704.9 -183.3,690.1 -146.7,659.7 -122.3,637.6 -95.8,619.3 -65.3,610.3 -40.9,611.3 -20.5,613.7 -0.1,618.2 20.9,624.8 245.4,703.4" fill="none" stroke="#77AC30" stroke-width="2.6" stroke-linejoin="round" stroke-linecap="round" clip-path="url(#cc)"/>
<polyline points="459.3,783.1 765.4,883.2 851.2,914.8 926.7,948.2 957.2,959.4 976.2,961.3 987,966.2 1019.1,980.8 1498.7,1147.4 1762.6,1242.5 2004.6,1325.6 2018.9,1333.7 2037,1342.1 2041.9,1354.7 2040.3,1360.9 2024.4,1378.4 1992.7,1401.9 1961.3,1423.5 1929.5,1447 1898.1,1468.5 1866.4,1486.1 1835,1503.8 1800.7,1519.3 1788.4,1522.1 1771.5,1523.7 1752.5,1524.8 1733.5,1525.4 1682.9,1525.6 1630.2,1525.7 1596,1525.8 1569.6,1525.8 1538,1525.5 1506.4,1525.4 1474.7,1525.2 1453.6,1524.9 1432.5,1523.9 1411.4,1522.5 1393.4,1520.3 1385.5,1518.4 1362.3,1511.9 1333.9,1492.5 1305.4,1471.4 1277,1453.7 1220.1,1428.3 1155.3,1406.4 501,1169.3 86.3,1021.7 -73.9,964.9 -142.1,940.5 -215.7,912.1 -266.9,898.1 -298.3,873.4 -309.6,845.1 -304.5,842.2 -310.4,824.3 -311.4,810 -308.5,800.5 -294.6,787.3 -272.6,769.5 -238.8,745.5 -208.9,724.1 -181,704.9 -154.9,682.8 -122.3,648.6 -95.8,631.5 -69.3,619.3 -40.9,613.7 -20.5,613.7 -0.1,616.9 20.9,624.2 245.4,702.2" fill="none" stroke="#D95319" stroke-width="2.6" stroke-linejoin="round" stroke-linecap="round" clip-path="url(#cc)"/>
<polyline points="459.3,787.6 765.4,887.7 851.2,919.3 926.7,952.7 957.2,964.6 1019.1,986.1 1498.7,1152.4 1762.6,1247.5 2002.7,1329.6 2016.9,1337.7 2035.1,1346.1 2039.9,1358.7 2038.3,1364.9 2022.4,1382.4 1990.7,1405.8 1959.3,1427.5 1927.6,1451 1896.2,1472.4 1864.4,1490.1 1833,1507.7 1800.7,1524.4 1787.3,1527.5 1769.4,1529.5 1750.4,1530.6 1733.5,1531.1 1682.9,1531.5 1630.2,1532.1 1596,1532.4 1559.1,1532.5 1538,1532.5 1506.4,1532.4 1472.6,1532.3 1451.5,1531.9 1432.5,1531.2 1411.4,1529.7 1393.4,1527.5 1385.5,1525.9 1376.5,1523.4 1348.1,1511.9 1325.5,1496 1302.5,1478.6 1277,1460.9 1248.5,1446.7 1220.1,1436.2 1155.3,1412.3 480.4,1166.3 86.3,1025.9 -73.9,968.6 -142.1,944.2 -215.7,915.8 -266.9,901.8 -298.3,877.1 -309.6,848.8 -307.5,842 -313.8,818.6 -311.2,808.9 -305.8,801.8 -294.6,790.9 -266.6,769.5 -238.8,751.6 -208.9,727.6 -179.1,704.9 -156.9,687.7 -122.3,656 -95.8,636.4 -73.4,625.4 -53,620 -30.7,618.2 -10.3,620.5 6,624.2 20.9,629.1 245.4,707.2" fill="none" stroke="#000000" stroke-width="2.6" stroke-linejoin="round" stroke-linecap="round" clip-path="url(#cc)"/>
<polyline points="1467.8,1124.3 1797.8,1214.3 1890.3,1242.7 1971.8,1272.7 2004.6,1278.7 2009.7,1278.1 2035.8,1271.4 2038.4,1272 2057.1,1276.1 2065.2,1296.8 2071.3,1298.5 2101.7,1301 2118.8,1295.1 2128.9,1306.3 2173.2,1319.6 2197,1314 2217.6,1322.1 2224.2,1332.8 2258.4,1338 2275.2,1339.8 2292.3,1352 2295.7,1360.9 2319.5,1357.3 2333.1,1371.3 2377.4,1385.4 2401.2,1378.4 2431.9,1386.5 2442,1396 2449,1403.1 2469.6,1399.5 2486.3,1413.5 2561.4,1434.6 2571.5,1433 2588.6,1443.5 2668.5,1467.2 2689.1,1463.6 2702.7,1477.7 3122.3,1609.1 3177.4,1619.2 3185.5,1618 3199.1,1627.7 3191,1636.2 3183,1634.7 3174.6,1643.2 3183,1644.6 3163.8,1660.1 3104.8,1693.9 3056,1722.7 3007.1,1749.7 2944.3,1776.8 2913.9,1779.9 2882,1787.7 2876.3,1775.8 2864.7,1783.8 2842.7,1783.6 2817.6,1782.8 2787.4,1776.8 2761.9,1775.4 2739.9,1776.7 2725,1785 2700.5,1784.7 2684.6,1783.4 2674,1782.9 2651.2,1780.5 2628.4,1781.5 2605.8,1781.7 2565.2,1789.7 2541.6,1789.2 2538.6,1783.7 2517,1782.6 2496.6,1780.8 2466.3,1781.9 2451.4,1778.9 2424.9,1764.4 2392.8,1743.4 2376.4,1723.8 2360,1728.1 2305.5,1702.9 2225.2,1683 2106.9,1654.7 2084.6,1676 2062.2,1629.7 2047.2,1616.2 1957.2,1589.1 1942.2,1583.2 1912.2,1575.4 1893.7,1580.5 1683.9,1513.6 1680,1505.8 1612.7,1486.5 1560.3,1473 1520.2,1460.4 1509,1464.8 1509,1453.5 1474.3,1453.5 1451.1,1450.7 1437.3,1427.5 1421,1435.8 1290.7,1398.4 1140.8,1329.2 1136.1,1332.9 1216.7,1377.3 1226.3,1379 1174.9,1203.7 1249.4,1205.1 1152.5,1356.8 1144.8,1359.8 1132.4,1354.1 1109.8,1332.5 1083.8,1338.1 1065.7,1333.4 1000.4,1306 979.2,1290.1 954.4,1242.7 936.4,1288.6 893,1275.4 819.5,1259.7 697.4,1219.2 685.2,1206.7 675.7,1214.5 638.1,1189 573.6,1179.1 562,1167.9 622.8,1159.7 560.9,1150 631.3,1151.8 560.9,1139.5 622.8,1171.7 637.1,1173.1 641.8,1137.5 645,1120 650.8,1091.8 1253.7,1227.7 1299.7,1185.8 659.3,1076 1327.7,1210.5 1383.2,1104.8 842.8,1018 884.6,998.7 878.2,996.1 877.2,990.7 799.9,978.2 871.9,984.6 915.8,973.7 939.5,971.9 961.8,974.1 995.1,981.7 1237.3,1052" fill="none" stroke="#0072BD" stroke-width="2.6" stroke-linejoin="round" stroke-linecap="round" clip-path="url(#cd)"/>
<polyline points="822.7,1096.1 575.2,1078 788.3,1061.4 691.5,1065 685.7,1053.8 822.7,1096.1" fill="none" stroke="#0072BD" stroke-width="2.6" stroke-linejoin="round" stroke-linecap="round" clip-path="url(#cd)"/>
<polyline points="1467.8,1120.9 1797.8,1210.9 1890.3,1239.3 1971.8,1269.3 2004.6,1278.3 2031.2,1275.9 2041.9,1289.3 2071.3,1297.4 2588.3,1447.7 2872.8,1533.2 3137,1609.2 3152.4,1616.4 3171.9,1624 3177.1,1635.4 3175.4,1641 3158.3,1656.6 3124.1,1677.7 3090.2,1697.2 3056,1718.3 3022.2,1737.6 2988,1753.5 2954.1,1769.3 2913.9,1782.3 2903,1784.1 2880.2,1785.5 2857.4,1786.1 2840.4,1786.9 2818.8,1786.9 2796.1,1786.8 2772.2,1787.2 2748.2,1786.6 2725.6,1787.4 2700.5,1788 2684.6,1788.3 2676.2,1788.4 2651.2,1788.3 2627.3,1786.7 2601.2,1786.8 2578.4,1787.3 2561.4,1788.2 2538.6,1788.4 2517,1787.6 2494.3,1786.6 2474.9,1784.7 2466.3,1783.2 2438.7,1776.5 2408,1759 2377.4,1740 2346.7,1724.1 2285.3,1701.3 2215.5,1681.6 1488.2,1464.8 1469.7,1461.3 1467.4,1458.9 1418.8,1457 1377,1452.5 1326.2,1441.9 1279.9,1427.5 1251.1,1420.2 1221.7,1411.3 1194.6,1401.3 1165.2,1390 1144.8,1380.5 1127.9,1371.1 1092.9,1359.8 1065.7,1351.3 905.5,1299.8 825.6,1268 740.1,1239.6 684.9,1226.9 651.1,1204.8 638.8,1179.3 628.9,1173.2 624.5,1163.9 621.1,1154.1 621.6,1141.5 625.5,1134.6 634.3,1120 640.1,1100.4 650.9,1094 665,1090.7 670.4,1080.6 679,1061.9 688.4,1054.8 702.4,1045.5 728.6,1030.5 820,1031.2 834.3,1025.7 843,1018 857.3,1009.3 850.7,997.2 870,984 897,973 928,969 950,969.5 972.5,972 995.2,978.5 1237.3,1049.8" fill="none" stroke="#7E2F8E" stroke-width="2.6" stroke-linejoin="round" stroke-linecap="round" clip-path="url(#cd)"/>
<polyline points="1467.8,1122.1 1797.8,1212 1890.3,1240.5 1971.8,1270.4 2004.6,1279.3 2071.3,1294 2588.3,1439.9 2872.8,1525.3 3132,1601 3160,1612.2 3181.1,1623.4 3177.1,1630.9 3175.4,1636.5 3158.3,1652.2 3124.1,1673.3 3090.2,1692.7 3056,1713.8 3022.2,1733.1 2988,1749 2954.1,1764.8 2913.9,1778 2891.6,1780.2 2866.5,1781.1 2843.8,1781.8 2816.5,1782.4 2786.9,1782.7 2761.9,1783.1 2730.1,1783.3 2684.6,1783.6 2664.9,1784 2630.7,1783.9 2601.2,1783.8 2573.9,1783.7 2551.1,1783.7 2526.1,1782.8 2505.7,1781.5 2488.6,1779.5 2473.8,1776.7 2466.3,1774.8 2456.7,1772.2 2426,1757.9 2395.3,1738.9 2364.7,1719.8 2324.5,1702.6 2288,1691.4 2218.2,1673.5 1512.8,1459.8 1065.7,1327.2 899.4,1278.1 825.9,1256.1 746.4,1230.6 691.3,1218 657.4,1195.8 645.2,1170.4 649.8,1173.4 642.3,1155.2 639,1145.5 642,1137 656,1125 680,1108.5 715,1085 745,1068 758.6,1057.2 764.9,1049.4 768,1046.2 775.8,1040 803.5,1022.4 840.8,996.1 869.4,978.5 897.9,968.7 928.6,963.2 950.6,962.7 972.5,964.9 995.2,970.9 1237.3,1046.4" fill="none" stroke="#EDB120" stroke-width="2.6" stroke-linejoin="round" stroke-linecap="round" clip-path="url(#cd)"/>
<polyline points="1467.8,1120.9 1797.8,1210.9 1890.3,1239.3 1971.8,1269.3 2004.6,1278.7 2025.8,1279.6 2036.7,1282.9 2071.3,1295.6 2588.3,1446.6 2872.8,1532.1 3137,1607 3152.4,1614.2 3171.9,1621.8 3177.1,1633.1 3175.4,1638.7 3158.3,1654.4 3124.1,1675.5 3090.2,1695 3056,1716.1 3022.2,1735.4 2988,1751.2 2954.1,1767.1 2913.9,1781.5 2900.7,1783.7 2882.5,1785.2 2862,1786 2841.5,1786.5 2775.6,1786.6 2730.1,1786.9 2684.6,1787.3 2676.2,1787.5 2642.1,1787.5 2608,1786.9 2596.7,1786.8 2562.5,1786.9 2539.7,1786.8 2517,1786.1 2494.3,1785 2474.9,1783.2 2466.3,1781.8 2441.3,1774.2 2410.7,1756.8 2380,1737.7 2349.3,1721.8 2288,1699 2218.2,1679.3 1512.8,1466.7 1065.7,1330.6 893,1281.4 819.5,1259.5 740.1,1234.1 684.9,1221.5 666.4,1214.3 647.9,1207.8 635.7,1201.7 623.5,1188.9 629.4,1173.4 630.5,1150.9 634.8,1140.1 644.4,1131.6 674.5,1112.2 676.6,1106.2 702.4,1090.8 730.3,1069.3 758.2,1050 775,1036.7 814.5,1009.3 840.8,989.5 869.4,973 902.3,964.9 928.6,965.8 950.6,968 972.5,972 995.2,978 1237.3,1048.7" fill="none" stroke="#77AC30" stroke-width="2.6" stroke-linejoin="round" stroke-linecap="round" clip-path="url(#cd)"/>
<polyline points="1467.8,1120.3 1797.8,1210.2 1890.3,1238.7 1971.8,1268.7 2004.6,1278.7 2025.1,1280.4 2036.7,1284.8 2071.3,1297.9 2588.3,1447.7 2872.8,1533.2 3133.8,1607.9 3149.2,1615.1 3168.7,1622.7 3174,1634 3172.2,1639.6 3155.1,1655.3 3120.9,1676.4 3087.1,1695.9 3052.8,1717 3019,1736.3 2984.8,1752.1 2950.9,1768 2913.9,1781.9 2900.7,1784.5 2882.5,1785.9 2862,1786.9 2841.5,1787.5 2786.9,1787.6 2730.1,1787.7 2693.3,1787.8 2664.9,1787.8 2630.7,1787.5 2596.7,1787.4 2562.5,1787.3 2539.7,1786.9 2517,1786.1 2494.3,1784.9 2474.9,1782.8 2466.3,1781.1 2441.3,1775.3 2410.7,1757.9 2380,1738.9 2349.3,1723 2288,1700.1 2218.2,1680.4 1512.8,1467.4 1065.7,1334.7 893,1283.6 819.5,1261.7 740.1,1236.2 684.9,1223.6 651.1,1201.4 638.8,1176 644.4,1173.4 638,1157.3 636.9,1144.4 640.1,1135.9 655.1,1124 678.8,1108 715.2,1086.5 747.4,1067.2 777.5,1050 805.7,1030.1 840.8,999.4 869.4,984 897.9,973 928.6,968 950.6,968 972.5,970.9 995.2,977.4 1237.3,1047.5" fill="none" stroke="#D95319" stroke-width="2.6" stroke-linejoin="round" stroke-linecap="round" clip-path="url(#cd)"/>
<polyline points="1467.8,1124.3 1797.8,1214.3 1890.3,1242.7 1971.8,1272.7 2004.6,1283.4 2071.3,1302.7 2588.3,1452.2 2872.8,1537.7 3131.7,1611.5 3147.1,1618.7 3166.6,1626.3 3171.8,1637.6 3170.1,1643.2 3153,1658.9 3118.8,1680 3084.9,1699.4 3050.7,1720.5 3016.9,1739.8 2982.7,1755.7 2948.8,1771.6 2913.9,1786.6 2899.5,1789.3 2880.2,1791.1 2859.7,1792.1 2841.5,1792.6 2786.9,1793 2730.1,1793.5 2693.3,1793.7 2653.5,1793.8 2630.7,1793.8 2596.7,1793.7 2560.2,1793.6 2537.5,1793.3 2517,1792.6 2494.3,1791.3 2474.9,1789.3 2466.3,1787.9 2456.7,1785.6 2426,1775.3 2401.7,1761 2376.8,1745.3 2349.3,1729.5 2318.7,1716.7 2288,1707.3 2218.2,1685.8 1490.6,1464.7 1065.7,1338.5 893,1287 819.5,1265.1 740.1,1239.6 684.9,1226.9 651.1,1204.8 638.8,1179.3 641.1,1173.2 634.3,1152.2 637.2,1143.4 643,1137.1 655.1,1127.3 685.2,1108 715.2,1091.9 747.4,1070.4 779.6,1050 803.5,1034.5 840.8,1006 869.4,988.4 893.5,978.5 915.5,973.7 939.6,972 961.6,974.1 979.1,977.4 995.2,981.8 1237.3,1052" fill="none" stroke="#000000" stroke-width="2.6" stroke-linejoin="round" stroke-linecap="round" clip-path="url(#cd)"/>
<rect x="104" y="1" width="909" height="495" fill="none" stroke="#222222" stroke-width="1.5"/>
<line x1="243.5" y1="496" x2="243.5" y2="486.5" stroke="#222222" stroke-width="1.5"/>
<line x1="243.5" y1="1" x2="243.5" y2="10.5" stroke="#222222" stroke-width="1.5"/>
<text transform="translate(243.5 535) scale(1 1.07)" font-size="28.5" text-anchor="middle" fill="#1a1a1a" font-weight="normal" >-100</text>
<line x1="395" y1="496" x2="395" y2="486.5" stroke="#222222" stroke-width="1.5"/>
<line x1="395" y1="1" x2="395" y2="10.5" stroke="#222222" stroke-width="1.5"/>
<text transform="translate(395 535) scale(1 1.07)" font-size="28.5" text-anchor="middle" fill="#1a1a1a" font-weight="normal" >0</text>
<line x1="546.5" y1="496" x2="546.5" y2="486.5" stroke="#222222" stroke-width="1.5"/>
<line x1="546.5" y1="1" x2="546.5" y2="10.5" stroke="#222222" stroke-width="1.5"/>
<text transform="translate(546.5 535) scale(1 1.07)" font-size="28.5" text-anchor="middle" fill="#1a1a1a" font-weight="normal" >100</text>
<line x1="698" y1="496" x2="698" y2="486.5" stroke="#222222" stroke-width="1.5"/>
<line x1="698" y1="1" x2="698" y2="10.5" stroke="#222222" stroke-width="1.5"/>
<text transform="translate(698 535) scale(1 1.07)" font-size="28.5" text-anchor="middle" fill="#1a1a1a" font-weight="normal" >200</text>
<line x1="849.5" y1="496" x2="849.5" y2="486.5" stroke="#222222" stroke-width="1.5"/>
<line x1="849.5" y1="1" x2="849.5" y2="10.5" stroke="#222222" stroke-width="1.5"/>
<text transform="translate(849.5 535) scale(1 1.07)" font-size="28.5" text-anchor="middle" fill="#1a1a1a" font-weight="normal" >300</text>
<line x1="1001" y1="496" x2="1001" y2="486.5" stroke="#222222" stroke-width="1.5"/>
<line x1="1001" y1="1" x2="1001" y2="10.5" stroke="#222222" stroke-width="1.5"/>
<text transform="translate(1001 535) scale(1 1.07)" font-size="28.5" text-anchor="middle" fill="#1a1a1a" font-weight="normal" >400</text>
<line x1="104" y1="46" x2="113.5" y2="46" stroke="#222222" stroke-width="1.5"/>
<line x1="1013" y1="46" x2="1003.5" y2="46" stroke="#222222" stroke-width="1.5"/>
<text transform="translate(92.5 58) scale(1 1.07)" font-size="28.5" text-anchor="end" fill="#1a1a1a" font-weight="normal" >50</text>
<line x1="104" y1="108.1" x2="113.5" y2="108.1" stroke="#222222" stroke-width="1.5"/>
<line x1="1013" y1="108.1" x2="1003.5" y2="108.1" stroke="#222222" stroke-width="1.5"/>
<text transform="translate(92.5 120.1) scale(1 1.07)" font-size="28.5" text-anchor="end" fill="#1a1a1a" font-weight="normal" >0</text>
<line x1="104" y1="170.1" x2="113.5" y2="170.1" stroke="#222222" stroke-width="1.5"/>
<line x1="1013" y1="170.1" x2="1003.5" y2="170.1" stroke="#222222" stroke-width="1.5"/>
<text transform="translate(92.5 182.1) scale(1 1.07)" font-size="28.5" text-anchor="end" fill="#1a1a1a" font-weight="normal" >-50</text>
<line x1="104" y1="232.2" x2="113.5" y2="232.2" stroke="#222222" stroke-width="1.5"/>
<line x1="1013" y1="232.2" x2="1003.5" y2="232.2" stroke="#222222" stroke-width="1.5"/>
<text transform="translate(92.5 244.2) scale(1 1.07)" font-size="28.5" text-anchor="end" fill="#1a1a1a" font-weight="normal" >-100</text>
<line x1="104" y1="294.3" x2="113.5" y2="294.3" stroke="#222222" stroke-width="1.5"/>
<line x1="1013" y1="294.3" x2="1003.5" y2="294.3" stroke="#222222" stroke-width="1.5"/>
<text transform="translate(92.5 306.3) scale(1 1.07)" font-size="28.5" text-anchor="end" fill="#1a1a1a" font-weight="normal" >-150</text>
<line x1="104" y1="356.4" x2="113.5" y2="356.4" stroke="#222222" stroke-width="1.5"/>
<line x1="1013" y1="356.4" x2="1003.5" y2="356.4" stroke="#222222" stroke-width="1.5"/>
<text transform="translate(92.5 368.4) scale(1 1.07)" font-size="28.5" text-anchor="end" fill="#1a1a1a" font-weight="normal" >-200</text>
<line x1="104" y1="418.4" x2="113.5" y2="418.4" stroke="#222222" stroke-width="1.5"/>
<line x1="1013" y1="418.4" x2="1003.5" y2="418.4" stroke="#222222" stroke-width="1.5"/>
<text transform="translate(92.5 430.4) scale(1 1.07)" font-size="28.5" text-anchor="end" fill="#1a1a1a" font-weight="normal" >-250</text>
<line x1="104" y1="480.5" x2="113.5" y2="480.5" stroke="#222222" stroke-width="1.5"/>
<line x1="1013" y1="480.5" x2="1003.5" y2="480.5" stroke="#222222" stroke-width="1.5"/>
<text transform="translate(92.5 492.5) scale(1 1.07)" font-size="28.5" text-anchor="end" fill="#1a1a1a" font-weight="normal" >-300</text>
<rect x="81" y="653" width="412" height="206" fill="none" stroke="#222222" stroke-width="1.5"/>
<line x1="97.3" y1="859" x2="97.3" y2="853" stroke="#222222" stroke-width="1.5"/>
<line x1="97.3" y1="653" x2="97.3" y2="659" stroke="#222222" stroke-width="1.5"/>
<text transform="translate(97.3 896.3) scale(1 1.08)" font-size="26.8" text-anchor="middle" fill="#1a1a1a" font-weight="normal" >102</text>
<line x1="162.7" y1="859" x2="162.7" y2="853" stroke="#222222" stroke-width="1.5"/>
<line x1="162.7" y1="653" x2="162.7" y2="659" stroke="#222222" stroke-width="1.5"/>
<text transform="translate(162.7 896.3) scale(1 1.08)" font-size="26.8" text-anchor="middle" fill="#1a1a1a" font-weight="normal" >104</text>
<line x1="228.1" y1="859" x2="228.1" y2="853" stroke="#222222" stroke-width="1.5"/>
<line x1="228.1" y1="653" x2="228.1" y2="659" stroke="#222222" stroke-width="1.5"/>
<text transform="translate(228.1 896.3) scale(1 1.08)" font-size="26.8" text-anchor="middle" fill="#1a1a1a" font-weight="normal" >106</text>
<line x1="293.5" y1="859" x2="293.5" y2="853" stroke="#222222" stroke-width="1.5"/>
<line x1="293.5" y1="653" x2="293.5" y2="659" stroke="#222222" stroke-width="1.5"/>
<text transform="translate(293.5 896.3) scale(1 1.08)" font-size="26.8" text-anchor="middle" fill="#1a1a1a" font-weight="normal" >108</text>
<line x1="358.9" y1="859" x2="358.9" y2="853" stroke="#222222" stroke-width="1.5"/>
<line x1="358.9" y1="653" x2="358.9" y2="659" stroke="#222222" stroke-width="1.5"/>
<text transform="translate(358.9 896.3) scale(1 1.08)" font-size="26.8" text-anchor="middle" fill="#1a1a1a" font-weight="normal" >110</text>
<line x1="424.3" y1="859" x2="424.3" y2="853" stroke="#222222" stroke-width="1.5"/>
<line x1="424.3" y1="653" x2="424.3" y2="659" stroke="#222222" stroke-width="1.5"/>
<text transform="translate(424.3 896.3) scale(1 1.08)" font-size="26.8" text-anchor="middle" fill="#1a1a1a" font-weight="normal" >112</text>
<line x1="489.7" y1="859" x2="489.7" y2="853" stroke="#222222" stroke-width="1.5"/>
<line x1="489.7" y1="653" x2="489.7" y2="659" stroke="#222222" stroke-width="1.5"/>
<text transform="translate(489.7 896.3) scale(1 1.08)" font-size="26.8" text-anchor="middle" fill="#1a1a1a" font-weight="normal" >114</text>
<line x1="81" y1="686.9" x2="87" y2="686.9" stroke="#222222" stroke-width="1.5"/>
<line x1="493" y1="686.9" x2="487" y2="686.9" stroke="#222222" stroke-width="1.5"/>
<text transform="translate(73 697.9) scale(1 1.08)" font-size="26.8" text-anchor="end" fill="#1a1a1a" font-weight="normal" >-60</text>
<line x1="81" y1="750" x2="87" y2="750" stroke="#222222" stroke-width="1.5"/>
<line x1="493" y1="750" x2="487" y2="750" stroke="#222222" stroke-width="1.5"/>
<text transform="translate(73 761) scale(1 1.08)" font-size="26.8" text-anchor="end" fill="#1a1a1a" font-weight="normal" >-70</text>
<line x1="81" y1="813.1" x2="87" y2="813.1" stroke="#222222" stroke-width="1.5"/>
<line x1="493" y1="813.1" x2="487" y2="813.1" stroke="#222222" stroke-width="1.5"/>
<text transform="translate(73 824.1) scale(1 1.08)" font-size="26.8" text-anchor="end" fill="#1a1a1a" font-weight="normal" >-80</text>
<rect x="584" y="653" width="412" height="208" fill="none" stroke="#222222" stroke-width="1.5"/>
<line x1="638.2" y1="861" x2="638.2" y2="855" stroke="#222222" stroke-width="1.5"/>
<line x1="638.2" y1="653" x2="638.2" y2="659" stroke="#222222" stroke-width="1.5"/>
<text transform="translate(638.2 898.3) scale(1 1.08)" font-size="26.8" text-anchor="middle" fill="#1a1a1a" font-weight="normal" >200</text>
<line x1="735.7" y1="861" x2="735.7" y2="855" stroke="#222222" stroke-width="1.5"/>
<line x1="735.7" y1="653" x2="735.7" y2="659" stroke="#222222" stroke-width="1.5"/>
<text transform="translate(735.7 898.3) scale(1 1.08)" font-size="26.8" text-anchor="middle" fill="#1a1a1a" font-weight="normal" >220</text>
<line x1="833.3" y1="861" x2="833.3" y2="855" stroke="#222222" stroke-width="1.5"/>
<line x1="833.3" y1="653" x2="833.3" y2="659" stroke="#222222" stroke-width="1.5"/>
<text transform="translate(833.3 898.3) scale(1 1.08)" font-size="26.8" text-anchor="middle" fill="#1a1a1a" font-weight="normal" >240</text>
<line x1="930.8" y1="861" x2="930.8" y2="855" stroke="#222222" stroke-width="1.5"/>
<line x1="930.8" y1="653" x2="930.8" y2="659" stroke="#222222" stroke-width="1.5"/>
<text transform="translate(930.8 898.3) scale(1 1.08)" font-size="26.8" text-anchor="middle" fill="#1a1a1a" font-weight="normal" >260</text>
<line x1="584" y1="678.1" x2="590" y2="678.1" stroke="#222222" stroke-width="1.5"/>
<line x1="996" y1="678.1" x2="990" y2="678.1" stroke="#222222" stroke-width="1.5"/>
<text transform="translate(576 689.1) scale(1 1.08)" font-size="26.8" text-anchor="end" fill="#1a1a1a" font-weight="normal" >-290</text>
<line x1="584" y1="770.2" x2="590" y2="770.2" stroke="#222222" stroke-width="1.5"/>
<line x1="996" y1="770.2" x2="990" y2="770.2" stroke="#222222" stroke-width="1.5"/>
<text transform="translate(576 781.2) scale(1 1.08)" font-size="26.8" text-anchor="end" fill="#1a1a1a" font-weight="normal" >-295</text>
<line x1="584" y1="862.3" x2="590" y2="862.3" stroke="#222222" stroke-width="1.5"/>
<line x1="996" y1="862.3" x2="990" y2="862.3" stroke="#222222" stroke-width="1.5"/>
<text transform="translate(576 873.3) scale(1 1.08)" font-size="26.8" text-anchor="end" fill="#1a1a1a" font-weight="normal" >-300</text>
<rect x="86" y="958" width="414" height="208" fill="none" stroke="#222222" stroke-width="1.5"/>
<line x1="165" y1="1166" x2="165" y2="1160" stroke="#222222" stroke-width="1.5"/>
<line x1="165" y1="958" x2="165" y2="964" stroke="#222222" stroke-width="1.5"/>
<text transform="translate(165 1203.3) scale(1 1.08)" font-size="26.8" text-anchor="middle" fill="#1a1a1a" font-weight="normal" >-60</text>
<line x1="263.1" y1="1166" x2="263.1" y2="1160" stroke="#222222" stroke-width="1.5"/>
<line x1="263.1" y1="958" x2="263.1" y2="964" stroke="#222222" stroke-width="1.5"/>
<text transform="translate(263.1 1203.3) scale(1 1.08)" font-size="26.8" text-anchor="middle" fill="#1a1a1a" font-weight="normal" >-40</text>
<line x1="361.2" y1="1166" x2="361.2" y2="1160" stroke="#222222" stroke-width="1.5"/>
<line x1="361.2" y1="958" x2="361.2" y2="964" stroke="#222222" stroke-width="1.5"/>
<text transform="translate(361.2 1203.3) scale(1 1.08)" font-size="26.8" text-anchor="middle" fill="#1a1a1a" font-weight="normal" >-20</text>
<line x1="459.3" y1="1166" x2="459.3" y2="1160" stroke="#222222" stroke-width="1.5"/>
<line x1="459.3" y1="958" x2="459.3" y2="964" stroke="#222222" stroke-width="1.5"/>
<text transform="translate(459.3 1203.3) scale(1 1.08)" font-size="26.8" text-anchor="middle" fill="#1a1a1a" font-weight="normal" >0</text>
<line x1="86" y1="986.8" x2="92" y2="986.8" stroke="#222222" stroke-width="1.5"/>
<line x1="500" y1="986.8" x2="494" y2="986.8" stroke="#222222" stroke-width="1.5"/>
<text transform="translate(78 997.8) scale(1 1.08)" font-size="26.8" text-anchor="end" fill="#1a1a1a" font-weight="normal" >-80</text>
<line x1="86" y1="1036.6" x2="92" y2="1036.6" stroke="#222222" stroke-width="1.5"/>
<line x1="500" y1="1036.6" x2="494" y2="1036.6" stroke="#222222" stroke-width="1.5"/>
<text transform="translate(78 1047.6) scale(1 1.08)" font-size="26.8" text-anchor="end" fill="#1a1a1a" font-weight="normal" >-100</text>
<line x1="86" y1="1086.4" x2="92" y2="1086.4" stroke="#222222" stroke-width="1.5"/>
<line x1="500" y1="1086.4" x2="494" y2="1086.4" stroke="#222222" stroke-width="1.5"/>
<text transform="translate(78 1097.4) scale(1 1.08)" font-size="26.8" text-anchor="end" fill="#1a1a1a" font-weight="normal" >-120</text>
<line x1="86" y1="1136.2" x2="92" y2="1136.2" stroke="#222222" stroke-width="1.5"/>
<line x1="500" y1="1136.2" x2="494" y2="1136.2" stroke="#222222" stroke-width="1.5"/>
<text transform="translate(78 1147.2) scale(1 1.08)" font-size="26.8" text-anchor="end" fill="#1a1a1a" font-weight="normal" >-140</text>
<rect x="569" y="958" width="426" height="215" fill="none" stroke="#222222" stroke-width="1.5"/>
<line x1="621.7" y1="1173" x2="621.7" y2="1167" stroke="#222222" stroke-width="1.5"/>
<line x1="621.7" y1="958" x2="621.7" y2="964" stroke="#222222" stroke-width="1.5"/>
<text transform="translate(621.7 1210.3) scale(1 1.08)" font-size="26.8" text-anchor="middle" fill="#1a1a1a" font-weight="normal" >-160</text>
<line x1="727.5" y1="1173" x2="727.5" y2="1167" stroke="#222222" stroke-width="1.5"/>
<line x1="727.5" y1="958" x2="727.5" y2="964" stroke="#222222" stroke-width="1.5"/>
<text transform="translate(727.5 1210.3) scale(1 1.08)" font-size="26.8" text-anchor="middle" fill="#1a1a1a" font-weight="normal" >-140</text>
<line x1="833.3" y1="1173" x2="833.3" y2="1167" stroke="#222222" stroke-width="1.5"/>
<line x1="833.3" y1="958" x2="833.3" y2="964" stroke="#222222" stroke-width="1.5"/>
<text transform="translate(833.3 1210.3) scale(1 1.08)" font-size="26.8" text-anchor="middle" fill="#1a1a1a" font-weight="normal" >-120</text>
<line x1="939" y1="1173" x2="939" y2="1167" stroke="#222222" stroke-width="1.5"/>
<line x1="939" y1="958" x2="939" y2="964" stroke="#222222" stroke-width="1.5"/>
<text transform="translate(939 1210.3) scale(1 1.08)" font-size="26.8" text-anchor="middle" fill="#1a1a1a" font-weight="normal" >-100</text>
<line x1="569" y1="990" x2="575" y2="990" stroke="#222222" stroke-width="1.5"/>
<line x1="995" y1="990" x2="989" y2="990" stroke="#222222" stroke-width="1.5"/>
<text transform="translate(561 1001) scale(1 1.08)" font-size="26.8" text-anchor="end" fill="#1a1a1a" font-weight="normal" >60</text>
<line x1="569" y1="1034.8" x2="575" y2="1034.8" stroke="#222222" stroke-width="1.5"/>
<line x1="995" y1="1034.8" x2="989" y2="1034.8" stroke="#222222" stroke-width="1.5"/>
<text transform="translate(561 1045.8) scale(1 1.08)" font-size="26.8" text-anchor="end" fill="#1a1a1a" font-weight="normal" >40</text>
<line x1="569" y1="1079.5" x2="575" y2="1079.5" stroke="#222222" stroke-width="1.5"/>
<line x1="995" y1="1079.5" x2="989" y2="1079.5" stroke="#222222" stroke-width="1.5"/>
<text transform="translate(561 1090.5) scale(1 1.08)" font-size="26.8" text-anchor="end" fill="#1a1a1a" font-weight="normal" >20</text>
<line x1="569" y1="1124.3" x2="575" y2="1124.3" stroke="#222222" stroke-width="1.5"/>
<line x1="995" y1="1124.3" x2="989" y2="1124.3" stroke="#222222" stroke-width="1.5"/>
<text transform="translate(561 1135.3) scale(1 1.08)" font-size="26.8" text-anchor="end" fill="#1a1a1a" font-weight="normal" >0</text>
<line x1="569" y1="1169.1" x2="575" y2="1169.1" stroke="#222222" stroke-width="1.5"/>
<line x1="995" y1="1169.1" x2="989" y2="1169.1" stroke="#222222" stroke-width="1.5"/>
<text transform="translate(561 1180.1) scale(1 1.08)" font-size="26.8" text-anchor="end" fill="#1a1a1a" font-weight="normal" >-20</text>
<text transform="translate(558 577) scale(1 1.03)" font-size="32" text-anchor="middle" fill="#1a1a1a" font-weight="normal" >east/m</text>
<text transform="translate(23.8 248.6) rotate(-90) scale(1 1.0)" font-size="32" text-anchor="middle" fill="#1a1a1a" font-weight="normal" >north/m</text>
<rect x="724" y="22" width="256" height="224" fill="#fff" stroke="#222222" stroke-width="1.5"/>
<line x1="729" y1="42" x2="771" y2="42" stroke="#0072BD" stroke-width="2"/>
<text transform="translate(777 53.5) scale(1 1.07)" font-size="28.8" text-anchor="start" fill="#000" font-weight="normal" >RTKLIB</text>
<line x1="729" y1="78.8" x2="771" y2="78.8" stroke="#7E2F8E" stroke-width="2"/>
<text transform="translate(777 90.3) scale(1 1.07)" font-size="28.8" text-anchor="start" fill="#000" font-weight="normal" >libRSF</text>
<line x1="729" y1="115.6" x2="771" y2="115.6" stroke="#EDB120" stroke-width="2"/>
<text transform="translate(777 127.1) scale(1 1.07)" font-size="28.8" text-anchor="start" fill="#000" font-weight="normal" >GNSS/IO</text>
<line x1="729" y1="152.4" x2="771" y2="152.4" stroke="#77AC30" stroke-width="2"/>
<text transform="translate(777 163.9) scale(1 1.07)" font-size="28.8" text-anchor="start" fill="#000" font-weight="normal" >GNSS/O GMM</text>
<line x1="729" y1="189.2" x2="771" y2="189.2" stroke="#D95319" stroke-width="2"/>
<text transform="translate(777 200.7) scale(1 1.07)" font-size="28.8" text-anchor="start" fill="#000" font-weight="normal" >GNSS/IO GMM</text>
<line x1="729" y1="226" x2="771" y2="226" stroke="#000000" stroke-width="2"/>
<text transform="translate(777 237.5) scale(1 1.07)" font-size="28.8" text-anchor="start" fill="#000" font-weight="normal" >GT</text>
<ellipse cx="0" cy="0" rx="41.6" ry="28.85" transform="translate(580.9 210.5) rotate(33.8)" fill="none" stroke="#D5532E" stroke-width="3.2"/>
<ellipse cx="0" cy="0" rx="54.0" ry="22.4" transform="translate(759.3 468.3) rotate(0)" fill="none" stroke="#D5532E" stroke-width="3.2"/>
<ellipse cx="0" cy="0" rx="104.1" ry="42.0" transform="translate(322.2 239.1) rotate(28.9)" fill="none" stroke="#D5532E" stroke-width="3.2"/>
<ellipse cx="0" cy="0" rx="73.1" ry="36.1" transform="translate(187.6 73.4) rotate(-49.9)" fill="none" stroke="#D5532E" stroke-width="3.2"/>
<text transform="translate(599 168.3) scale(1 1.0)" font-size="27" text-anchor="middle" fill="#D4502A" font-weight="bold" >a</text>
<text transform="translate(758.1 433.6) scale(1 1.06)" font-size="29" text-anchor="middle" fill="#D4502A" font-weight="bold" >b</text>
<text transform="translate(354.7 244) scale(1 1.0)" font-size="27" text-anchor="middle" fill="#D4502A" font-weight="bold" >c</text>
<text transform="translate(132.5 48.5) scale(1 1.06)" font-size="29" text-anchor="middle" fill="#D4502A" font-weight="bold" >d</text>
<line x1="23.1" y1="600.8" x2="1014.7" y2="600.8" stroke="#9c9c9c" stroke-width="2.3" stroke-dasharray="12.6 9.6" stroke-dashoffset="0"/>
<line x1="1014.7" y1="600.8" x2="1014.7" y2="1233.1" stroke="#9c9c9c" stroke-width="2.3" stroke-dasharray="12.6 9.6" stroke-dashoffset="16"/>
<line x1="23.1" y1="1233.1" x2="1014.7" y2="1233.1" stroke="#9c9c9c" stroke-width="2.3" stroke-dasharray="12.6 9.6" stroke-dashoffset="14.2"/>
<line x1="22.9" y1="600.8" x2="22.9" y2="1233.1" stroke="#9c9c9c" stroke-width="2.3" stroke-dasharray="12.6 9.6" stroke-dashoffset="2.9"/>
<line x1="518.9" y1="601" x2="518.9" y2="1233" stroke="#b0b0b0" stroke-width="2.2"/>
<line x1="23" y1="916.9" x2="1014.7" y2="916.9" stroke="#b0b0b0" stroke-width="2.2"/>
<text transform="translate(51.2 635.4) scale(1 1.0)" font-size="27" text-anchor="middle" fill="#D4502A" font-weight="bold" >a</text>
<text transform="translate(555.5 637.7) scale(1 1.06)" font-size="29" text-anchor="middle" fill="#D4502A" font-weight="bold" >b</text>
<text transform="translate(50.9 950.4) scale(1 1.0)" font-size="27" text-anchor="middle" fill="#D4502A" font-weight="bold" >c</text>
<text transform="translate(548.9 952.6) scale(1 1.06)" font-size="29" text-anchor="middle" fill="#D4502A" font-weight="bold" >d</text>
</svg>
</body></html>
